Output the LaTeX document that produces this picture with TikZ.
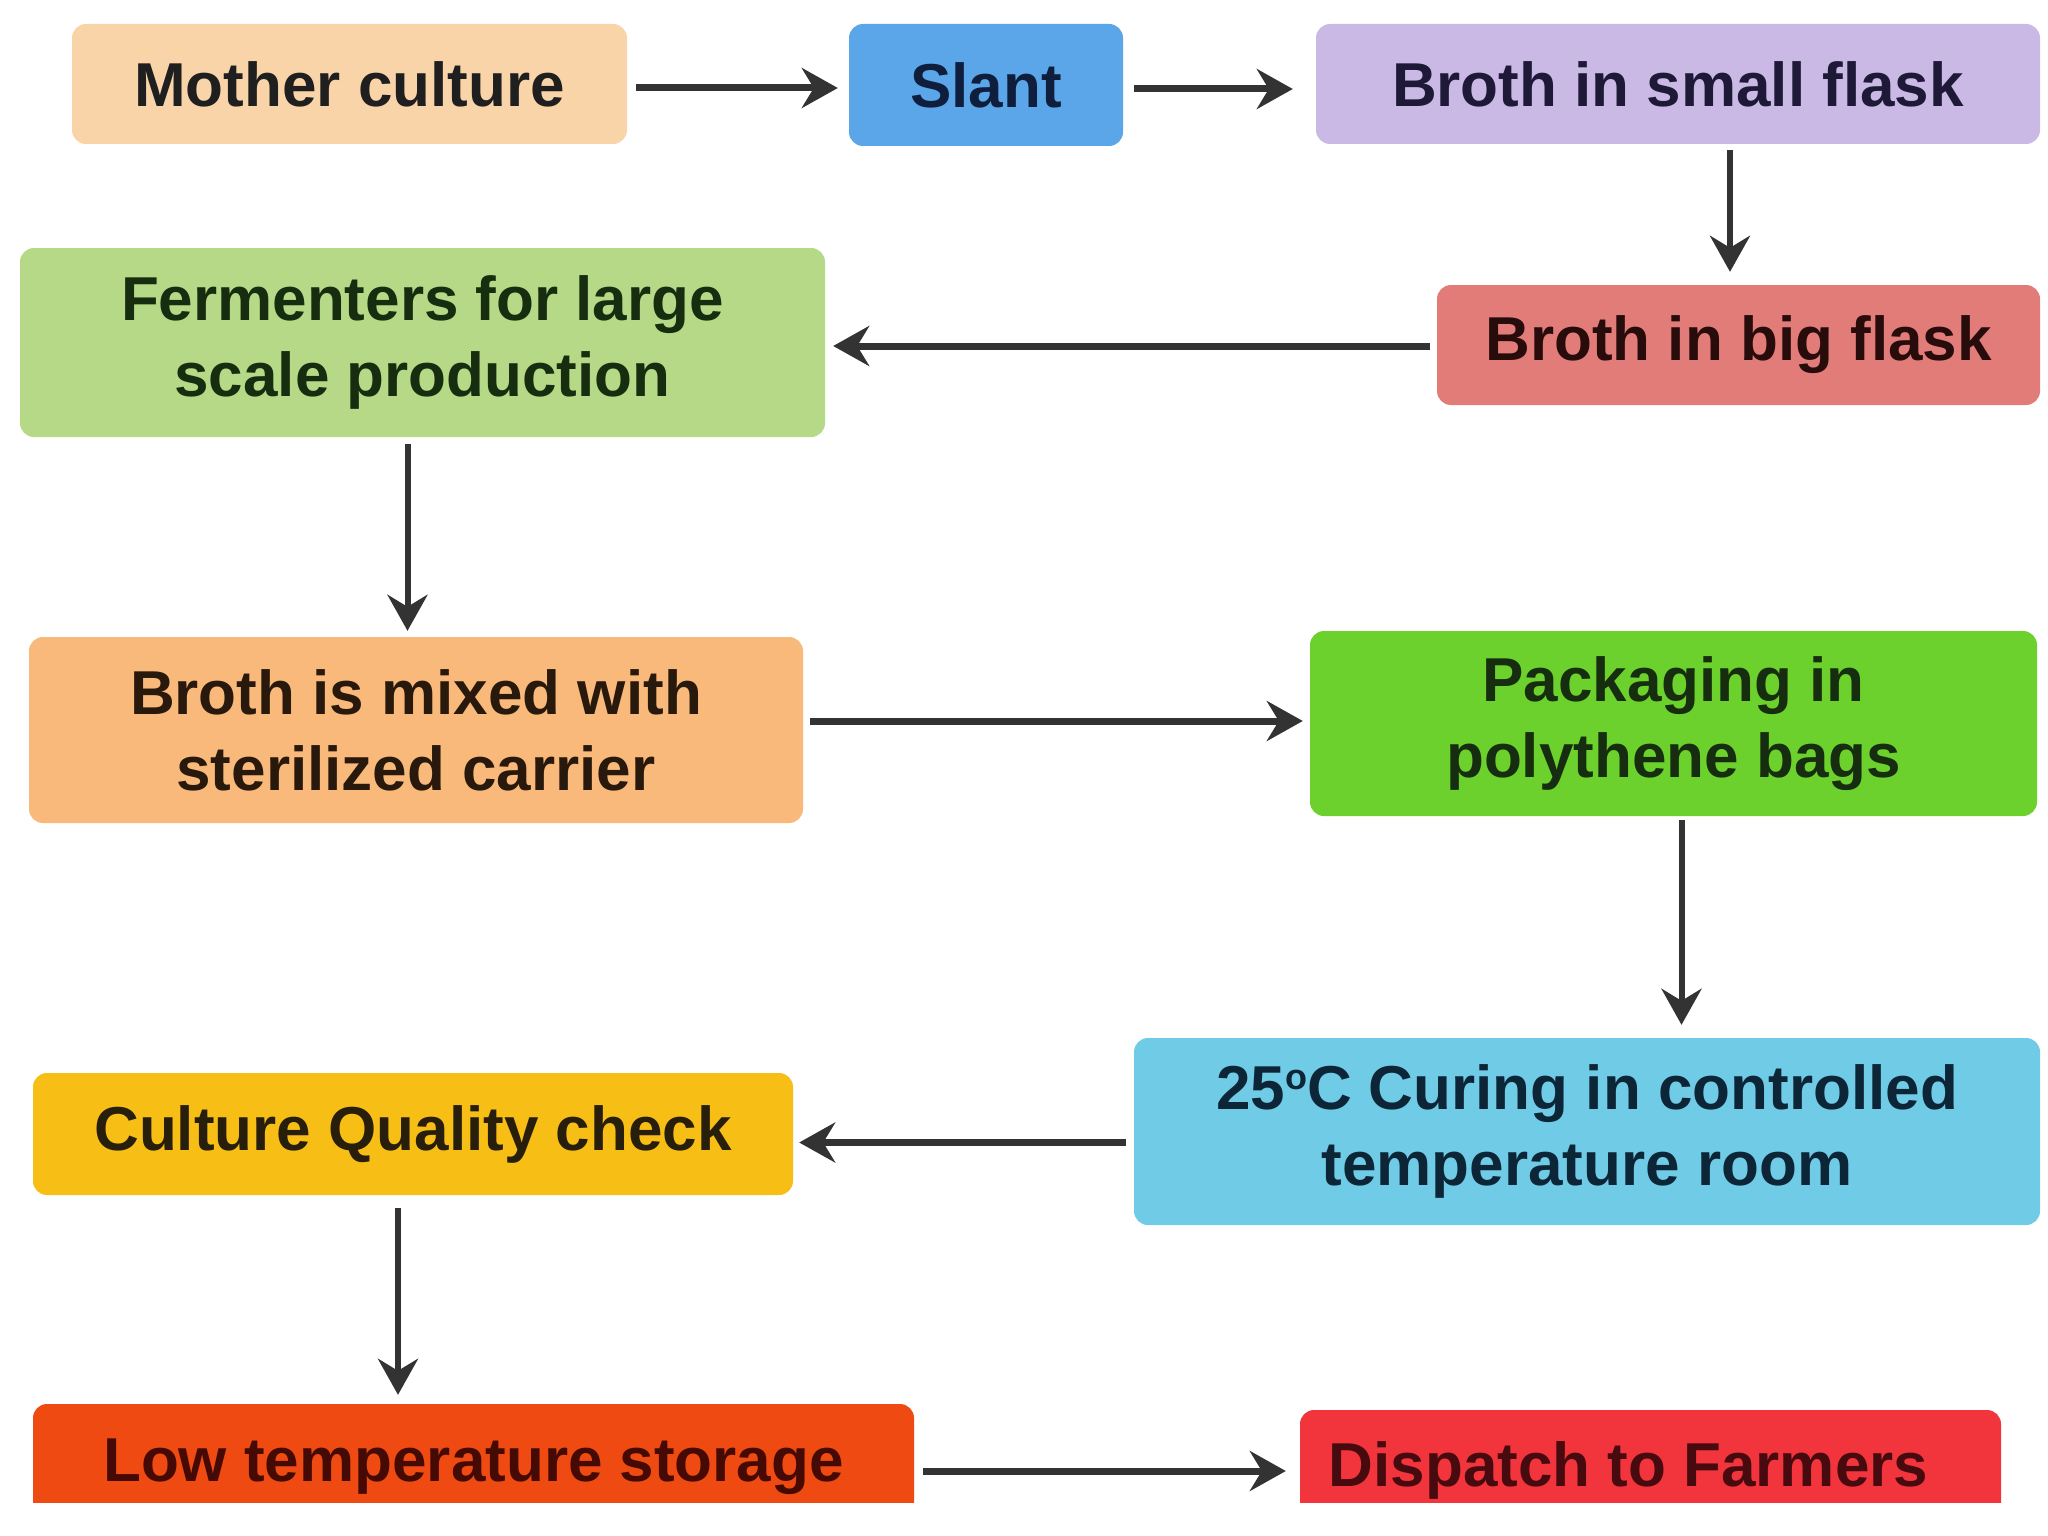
\documentclass[tikz,border=0pt]{standalone}
\usepackage{fontspec}
\setmainfont{Liberation Sans}
\usetikzlibrary{arrows.meta,calc}
\definecolor{cMC}{HTML}{F9D4A8}
\definecolor{cSL}{HTML}{5AA6E8}
\definecolor{cSF}{HTML}{C9B9E4}
\definecolor{cBF}{HTML}{E27C79}
\definecolor{cFE}{HTML}{B5D986}
\definecolor{cMX}{HTML}{F9B97A}
\definecolor{cPK}{HTML}{6CD12C}
\definecolor{cCU}{HTML}{70CBE6}
\definecolor{cQC}{HTML}{F7BF16}
\definecolor{cLT}{HTML}{EE4A12}
\definecolor{cDP}{HTML}{F2343C}
\definecolor{arrowgray}{HTML}{333333}
\tikzset{
  procbox/.style={rounded corners=14pt, inner sep=0pt, align=center,
    font=\fontsize{62}{76}\selectfont\bfseries},
  flowarrow/.style={draw=arrowgray, line width=7pt,
    -{Stealth[length=36pt,width=40pt,inset=12pt]}},
  vflowarrow/.style={draw=arrowgray, line width=6pt,
    -{Stealth[length=36pt,width=40pt,inset=12pt]}}
}
\begin{document}
\begin{tikzpicture}[x=1pt,y=-1pt]
\useasboundingbox (0,0) rectangle (2048,1536);
\fill[white] (0,0) rectangle (2048,1536);
\begin{scope}
\clip (0,0) rectangle (2048,1502);
\node[procbox, fill=cMC, text=black!88, minimum width=555pt, minimum height=120pt] (mc) at (349.5,84) {Mother culture};
\node[procbox, fill=cSL, text={rgb,255:red,15;green,30;blue,60}, minimum width=274pt, minimum height=122pt] (sl) at (986,85) {Slant};
\node[procbox, fill=cSF, text={rgb,255:red,30;green,25;blue,55}, minimum width=724pt, minimum height=120pt] (sf) at (1678,84) {Broth in small flask};
\node[procbox, fill=cBF, text={rgb,255:red,40;green,12;blue,12}, minimum width=603pt, minimum height=120pt] (bf) at (1738.5,345) {Broth in big flask};
\node[procbox, fill=cFE, text={rgb,255:red,22;green,45;blue,15}, minimum width=805pt, minimum height=189pt] (fe) at (422.5,342.5) {Fermenters for large\\scale production};
\node[procbox, fill=cMX, text={rgb,255:red,40;green,25;blue,12}, minimum width=774pt, minimum height=186pt] (mx) at (416,730) {Broth is mixed with\\sterilized carrier};
\node[procbox, fill=cPK, text={rgb,255:red,22;green,45;blue,15}, minimum width=727pt, minimum height=185pt] (pk) at (1673.5,723.5) {Packaging in\\polythene bags};
\node[procbox, fill=cCU, text={rgb,255:red,12;green,38;blue,55}, minimum width=906pt, minimum height=187pt] (cu) at (1587,1131.5) {25\raisebox{20pt}{\fontsize{36}{36}\selectfont o}C Curing in controlled\\temperature room};
\node[procbox, fill=cQC, text={rgb,255:red,40;green,30;blue,12}, minimum width=760pt, minimum height=122pt] (qc) at (413,1134) {Culture Quality check};
\node[procbox, fill=cLT, text={rgb,255:red,70;green,10;blue,5}, minimum width=881pt, minimum height=126pt] (lt) at (473.5,1467) {Low temperature storage};
\node[procbox, fill=cDP, text={rgb,255:red,70;green,10;blue,15}, minimum width=701pt, minimum height=120pt] (dp) at (1650.5,1470) {Dispatch to Farmers\kern44pt};
% connectors
\draw[flowarrow, shorten <=9pt, shorten >=11pt] ([yshift=-4pt]mc.east) -- ([yshift=-4pt]mc.east -| sl.west);
\draw[flowarrow, shorten <=11pt, shorten >=23pt] ([yshift=-4pt]sl.east) -- ([yshift=-4pt]sl.east -| sf.west);
\draw[vflowarrow, shorten <=6pt, shorten >=13pt] ([xshift=52pt]sf.south) -- ([xshift=52pt]sf.south |- bf.north);
\draw[flowarrow, shorten <=7pt, shorten >=8pt] ([yshift=-1pt]bf.west) -- ([yshift=-1pt]bf.west -| fe.east);
\draw[vflowarrow, shorten <=7pt, shorten >=6pt] ([xshift=-15pt]fe.south) -- ([xshift=-15pt]fe.south |- mx.north);
\draw[flowarrow, shorten <=7pt, shorten >=7pt] ([yshift=9pt]mx.east) -- ([yshift=9pt]mx.east -| pk.west);
\draw[vflowarrow, shorten <=4pt, shorten >=13pt] ([xshift=8pt]pk.south) -- ([xshift=8pt]pk.south |- cu.north);
\draw[flowarrow, shorten <=8pt, shorten >=6pt] ([yshift=-11pt]cu.west) -- ([yshift=-11pt]cu.west -| qc.east);
\draw[vflowarrow, shorten <=13pt, shorten >=9pt] ([xshift=-15pt]qc.south) -- ([xshift=-15pt]qc.south |- lt.north);
\draw[flowarrow, shorten <=9pt, shorten >=14pt] ([yshift=-4pt]lt.east) -- ([yshift=-4pt]lt.east -| dp.west);
\end{scope}
\end{tikzpicture}
\end{document}
